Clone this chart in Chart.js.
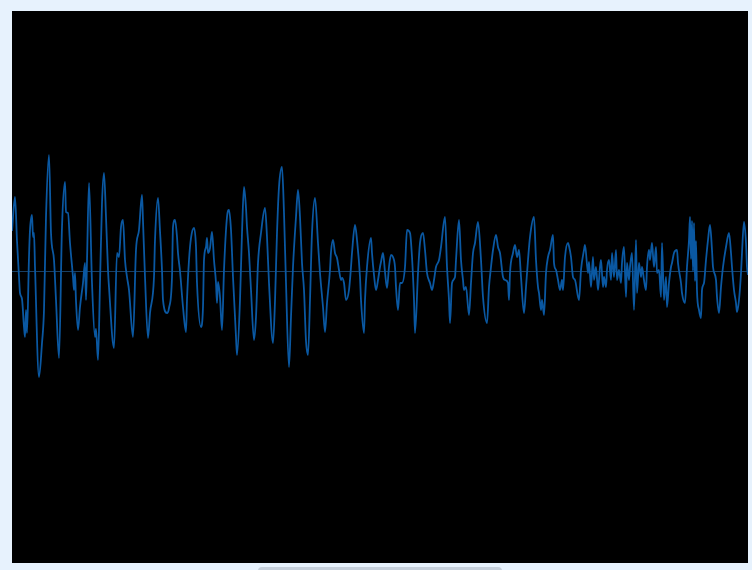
<!DOCTYPE html>
<html>
<head>
<meta charset="utf-8">
<script src="https://cdn.jsdelivr.net/npm/chart.js@4.4.1/dist/chart.umd.min.js"></script>
<style>
  html, body { margin: 0; padding: 0; width: 752px; height: 570px; overflow: hidden; background: #e7f2fd; }
  #wrap { position: absolute; left: 12px; top: 11px; width: 736px; height: 552px; background: #000; }
  #thumb { position: absolute; left: 258px; top: 567px; width: 244px; height: 8px; border-radius: 4px; background: #c6d0dc; }
</style>
</head>
<body>
<div id="wrap"><canvas id="wave"></canvas></div>
<div id="thumb"></div>
<script>
// waveform samples (time in samples, amplitude)
const sampleTimes = [
  0, 3, 5, 7, 8, 10, 12, 13, 14, 15, 17, 18, 20, 21, 22, 23, 27, 30, 32, 34, 37, 39, 42, 44, 47, 50,
  53, 54, 56, 58, 61, 62, 63, 64, 66, 68, 71, 73, 74, 75, 77, 80, 83, 84, 86, 88, 90, 92, 94, 96, 97,
  102, 105, 107, 109, 111, 113, 115, 117, 121, 124, 127, 130, 131, 133, 136, 138, 142, 143, 146, 148,
  150, 151, 155, 157, 160, 161, 163, 165, 166, 168, 171, 174, 175, 177, 179, 182, 184, 185, 189, 191,
  192, 194, 195, 196, 198, 200, 202, 204, 205, 206, 208, 210, 212, 215, 217, 219, 221, 224, 225, 228,
  230, 232, 234, 235, 237, 239, 242, 244, 246, 249, 253, 255, 257, 261, 263, 265, 267, 270, 272, 274,
  277, 279, 281, 284, 286, 288, 290, 292, 294, 296,
  298, 300, 303, 306, 308, 311, 313, 315, 318, 319, 321, 323, 325, 327, 329, 330, 332, 334, 337, 339,
  340, 343, 345, 348, 349, 352, 353, 355, 359, 360, 362, 364, 366, 368, 369, 371, 373, 375, 377, 379,
  381, 383, 384, 386, 388, 390, 393, 395, 398, 400, 402, 403, 406, 408, 411, 413, 415, 418, 420, 422,
  424, 427, 429, 433, 435, 437, 438, 440, 443,
  444, 447, 449, 451, 452, 454, 457, 459, 461, 463, 466, 469, 471, 475, 477, 479, 481, 484, 486, 488,
  491, 493, 496, 497, 498, 501, 503, 505, 507, 509, 512, 514, 516, 518, 522, 524, 526, 527, 529, 530,
  532, 534, 536, 538, 541, 542, 544, 546, 548, 550, 551, 553, 556, 557, 559, 561, 563, 567, 569, 572,
  573, 576, 577, 579, 581, 582, 584, 586, 588, 589, 591,
  592, 594, 595, 597, 599, 600, 602, 604, 605, 607, 609, 610, 612, 614, 615, 617, 618, 620, 622, 624,
  625, 627, 629, 630, 632, 634, 635, 637, 638, 640, 642, 644, 645, 647, 649, 650, 652, 654, 655, 657,
  659, 660, 662, 665, 666, 669, 670, 673, 675, 677, 678, 679, 680, 681, 682, 683, 684, 685, 687, 689,
  690, 692, 694, 696, 698, 700, 701, 704, 705, 707, 709, 711, 714, 717, 719, 720, 722, 724, 725, 727,
  729, 730, 732, 734, 735, 736
];
const amplitudes = [
  40, 74, 30, -6, -22, -28, -56, -66, -39, -62, 14, 41, 56, 34, 38, 4, -106, -72, -39, 54, 116, 38, 11, -29, -87, 44,
  89, 59, 58, 28, -6, -19, -2, -30, -59, -36, -12, 8, -29, 10, 88, -12, -66, -58, -89, -12, 68, 98, 54, 1, -16,
  -77, 18, 14, 44, 51, 11, -6, -19, -66, 21, 41, 76, 50, -6, -67, -42, -6, 31, 73, 40,
  1, -29, -42, -37, -6, 44, 51, 34, 18, 0, -36, -61, -29, 11, 33, 43, 24, -12, -56, -36,
  11, 24, 33, 18, 23, 39, 11, -12, -32, -11, -26, -59, 1, 54, 61, 41, -6, -66, -84, -29,
  38, 84, 63, 44, 18, -19, -69, -46, 8, 38, 63, 34, -12, -72, -30, 38, 84, 104, 58, -12,
  -96, -46, 4, 54, 81, 54, 8, -19, -70, -84,
  -29, 38, 73, 28, -2, -36, -61, -32, 1, 19, 31, 18, 13, 1, -9, -7, -12, -29, -19, 4,
  18, 46, 31, -6, -29, -62, -29, 4, 33, 18, -4, -19, -9, 4, 9, 18, -1, -17, 4, 16,
  14, 4, -16, -39, -12, -12, 4, 41, 38, 14, -29, -62, -2, 28, 38, 21, -2, -12, -19, -9,
  4, 11, 24, 54, 4, -29, -52, -12, -6,
  11, 51, 11, -9, -19, -16, -44, -12, 18, 28, 49, 11, -26, -52, -16, 4, 21, 36, 24, 18,
  -6, -9, -12, -29, -2, 18, 26, 14, 21, -6, -42, -16, 11, 34, 54, 11, -16, -22, -39, -29,
  -44, -2, 14, 21, 36, 8, 1, -9, -19, -9, -19, 14, 28, 25, 14, -6, -9, -29, 1, 21,
  26, -2, 9, -16, 14, -9, 4, -19, 4, 11, -16,
  -6, -16, 1, 11, -9, 18, -6, 21, -9, 1, -12, 8, 24, -26, 8, -9, 4, 18, -39, 31,
  -22, 8, -6, 4, -9, -19, 4, 21, 11, 28, 4, 24, -2, 1, -26, 28, -29, -6, -36, -12,
  4, 8, 18, 21, 8, -12, -22, -32, 4, 31, 54, 12, 50, 0, 48, -10, 30, -20, -39, -47,
  -19, -12, 11, 31, 46, 21, 4, -9, -26, -42, -16, 4, 24, 38, 18, 4, -19, -32, -41, -29,
  -2, 18, 49, 28, 4, -4
];

const WAVE_COLOR = '#0a58a2';
const ZERO_COLOR = '#183f63';

const points = sampleTimes.map((t, i) => ({ x: t, y: amplitudes[i] }));

new Chart(document.getElementById('wave'), {
  type: 'line',
  data: {
    datasets: [{
      data: points,
      borderColor: WAVE_COLOR,
      borderWidth: 1.8,
      pointRadius: 0,
      cubicInterpolationMode: 'monotone',
      fill: false
    }]
  },
  options: {
    responsive: true,
    maintainAspectRatio: false,
    animation: false,
    layout: { padding: 0 },
    plugins: { legend: { display: false }, tooltip: { enabled: false } },
    scales: {
      x: { type: 'linear', min: 0, max: 736, display: false },
      y: {
        min: -292, max: 260,
        afterBuildTicks: (axis) => { axis.ticks = [{ value: 0 }]; },
        ticks: { display: false },
        grid: { color: ZERO_COLOR, lineWidth: 1, drawTicks: false },
        border: { display: false }
      }
    }
  }
});
</script>
</body>
</html>
